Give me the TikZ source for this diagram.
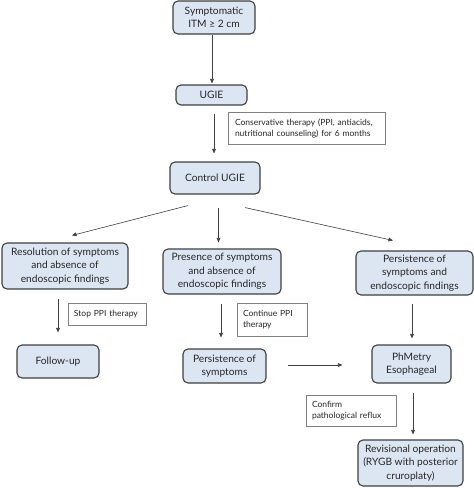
\documentclass[tikz,border=0pt]{standalone}
\usepackage{fontspec}
\setmainfont{Lato}
\usetikzlibrary{arrows.meta,calc}
\definecolor{boxfill}{HTML}{DCE6F2}
\definecolor{boxdraw}{HTML}{3F3F3F}
\definecolor{lbldraw}{HTML}{808080}
\definecolor{arrcol}{HTML}{404040}
\definecolor{txt}{HTML}{262626}
\begin{document}
\begin{tikzpicture}[x=1pt,y=-1pt,
  mainbox/.style={draw=boxdraw,fill=boxfill,line width=1.1pt,rounded corners=5pt,
    inner sep=0pt,align=center,text=txt,font=\fontsize{10.2}{13.5}\selectfont},
  lblbox/.style={draw=lbldraw,fill=white,line width=0.6pt,inner sep=0pt,
    align=left,text=txt,font=\fontsize{8.5}{11}\selectfont},
  arr/.style={draw=arrcol,line width=0.6pt,-{Triangle[length=4.5pt,width=3.8pt]}}]
\useasboundingbox (0,0) rectangle (474,488);
\node[mainbox,minimum width=82pt,minimum height=33pt] (sym) at (214,17.5) {Symptomatic\\ITM ≥ 2 cm};
\node[mainbox,minimum width=71pt,minimum height=20pt] (ugie) at (211.5,95) {UGIE};
\node[lblbox,minimum width=157pt,minimum height=32pt,text width=143pt] (cons) at (306.5,128) {Conservative therapy (PPI, antiacids,\\nutritional counseling) for 6 months};
\node[mainbox,minimum width=90pt,minimum height=32pt] (ctrl) at (215,178) {Control UGIE};
\node[mainbox,minimum width=126pt,minimum height=46pt] (res) at (65,266) {Resolution of symptoms\\and absence of\\endoscopic findings};
\node[mainbox,minimum width=118pt,minimum height=45pt] (pres) at (222,271.5) {Presence of symptoms\\and absence of\\endoscopic findings};
\node[mainbox,minimum width=117pt,minimum height=44pt] (pers) at (414.5,273) {Persistence of\\symptoms and\\endoscopic findings};
\node[lblbox,minimum width=78pt,minimum height=22pt,text width=66pt] (stop) at (107,314) {Stop PPI therapy};
\node[mainbox,minimum width=82pt,minimum height=33pt] (fol) at (58,361.5) {Follow-up};
\node[lblbox,minimum width=70pt,minimum height=33pt,text width=58pt] (cont) at (272,319.5) {Continue PPI\\therapy};
\node[mainbox,minimum width=83pt,minimum height=34pt] (pers2) at (224.5,366) {Persistence of\\symptoms};
\node[mainbox,minimum width=79pt,minimum height=38pt] (ph) at (411.5,364) {PhMetry\\Esophageal};
\node[lblbox,minimum width=90pt,minimum height=31pt,text width=78pt] (conf) at (351,410.5) {Confirm\\pathological reflux};
\node[mainbox,minimum width=105pt,minimum height=46pt] (rev) at (410.5,463) {Revisional operation\\(RYGB with posterior\\cruroplaty)};
\draw[arr] ($(sym.south)+(-2,0)$) -- ($(ugie.north)+(0.5,-1)$);
\draw[arr] ($(ugie.south)+(2.5,8)$) -- ($(ctrl.north)+(-1,-8)$);
\draw[arr] ($(ctrl.south)+(-27,11)$) -- ($(res.north)+(7,-7)$);
\draw[arr] ($(ctrl.south)+(3.5,13)$) -- ($(pres.north)+(-3.5,-6)$);
\draw[arr] ($(ctrl.south)+(30,13)$) -- ($(pers.north)+(-21.5,-10)$);
\draw[arr] ($(res.south)+(-7,9)$) -- ($(fol.north)+(0,-12)$);
\draw[arr] ($(pres.south)+(-1,9)$) -- ($(pers2.north)+(-3.5,-11)$);
\draw[arr] ($(pers.south)+(-2.5,8)$) -- ($(ph.north)+(0.5,-6)$);
\draw[arr] ($(pers2.east)+(21,-1)$) -- ($(ph.west)+(-29,1)$);
\draw[arr] ($(ph.south)+(1.5,9)$) -- ($(rev.north)+(2.5,-5)$);
\end{tikzpicture}
\end{document}
